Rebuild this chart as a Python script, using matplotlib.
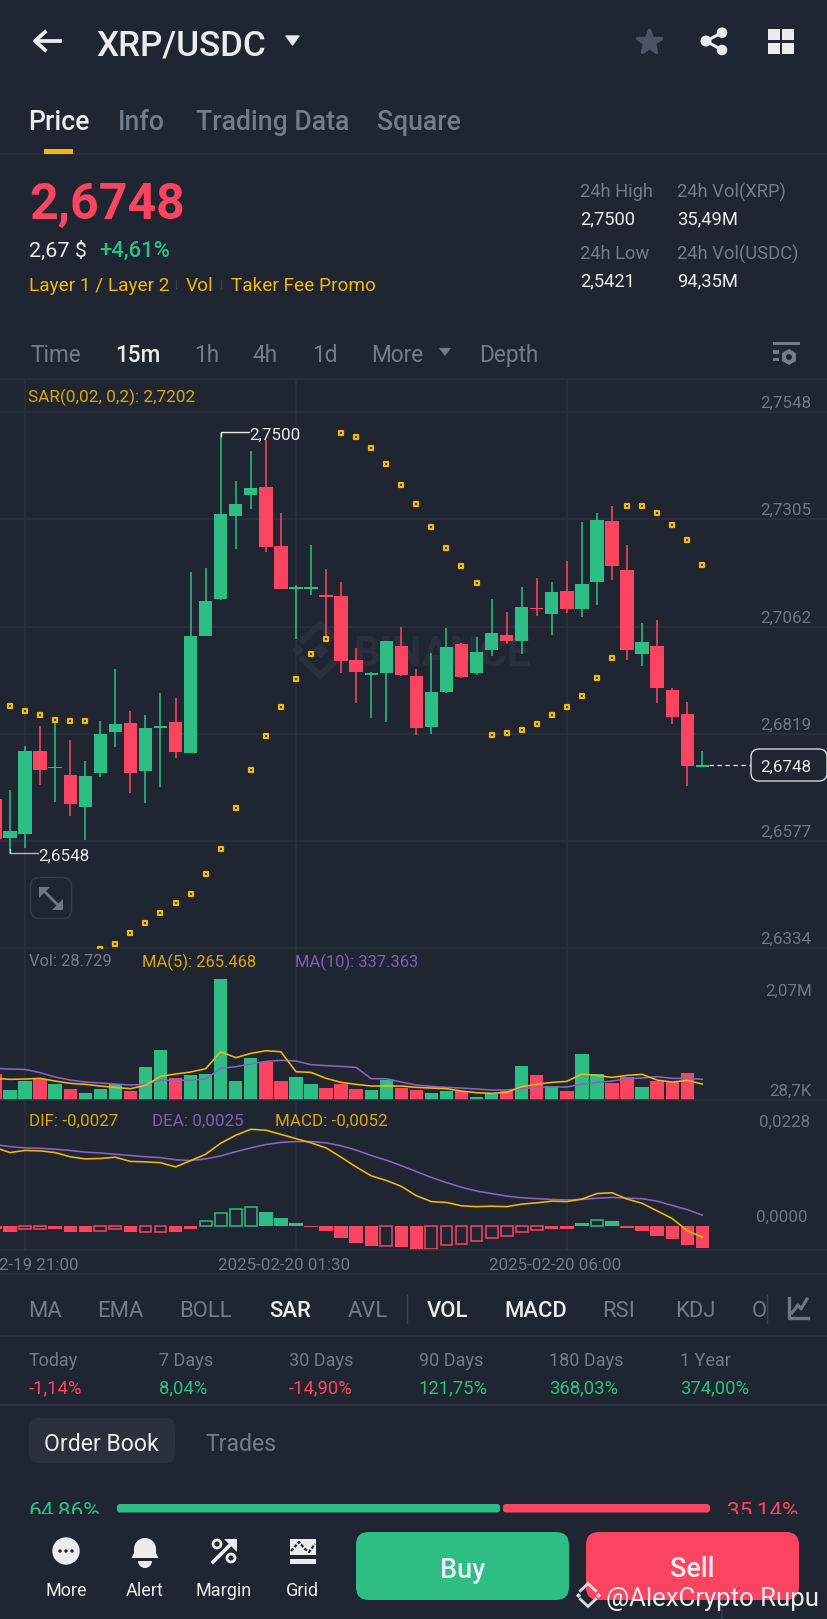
import numpy as np
import matplotlib
matplotlib.use("Agg")
import matplotlib.pyplot as plt
from matplotlib.markers import MarkerStyle
from matplotlib.patches import FancyBboxPatch, Rectangle, Circle, Polygon, RegularPolygon, Wedge

# ---- data -----------------------------------------------------------------
candle_index = list(range(-1, 47))
candle_open = [2.6671,2.6584,2.6592,2.6781,2.6741,2.6726,2.6654,2.6731,2.6823,2.6843,2.6736,2.6833,
               2.6845,2.6777,2.7041,2.7125,2.7313,2.7360,2.7378,2.7245,2.7146,2.7146,2.7133,2.7131,
               2.6987,2.6953,2.6956,2.7018,2.6951,2.6835,2.6913,2.7023,2.6958,2.7009,2.7042,2.7029,
               2.7105,2.7090,2.7142,2.7102,2.7162,2.7301,2.7190,2.7000,2.7019,2.6918,2.6864,2.6745]
candle_close = [2.6581,2.6599,2.6780,2.6738,2.6745,2.6661,2.6723,2.6820,2.6841,2.6730,2.6832,2.6838,
                2.6779,2.7041,2.7121,2.7317,2.7339,2.7376,2.7241,2.7148,2.7151,2.7151,2.7129,2.6985,
                2.6960,2.6958,2.7029,2.6952,2.6833,2.6914,2.7015,2.6947,2.7005,2.7047,2.7029,2.7107,
                2.7101,2.7140,2.7102,2.7159,2.7304,2.7199,2.7009,2.7026,2.6923,2.6858,2.6747,2.6748]
candle_high = [2.6681,2.6692,2.6792,2.6838,2.6847,2.6805,2.6758,2.6849,2.6966,2.6870,2.6862,2.6912,
               2.6900,2.7185,2.7194,2.7500,2.7391,2.7459,2.7484,2.7320,2.7156,2.7246,2.7192,2.7163,
               2.7014,2.6959,2.7030,2.7062,2.6966,2.7003,2.7059,2.7024,2.7038,2.7125,2.7094,2.7151,
               2.7173,2.7162,2.7210,2.7298,2.7318,2.7334,2.7247,2.7069,2.7077,2.6924,2.6891,2.6781]
candle_low = [2.6568,2.6548,2.6560,2.6703,2.6665,2.6633,2.6580,2.6721,2.6789,2.6685,2.6662,2.6700,
              2.6764,2.6776,2.7040,2.7123,2.7237,2.7328,2.7230,2.7146,2.7033,2.7133,2.7039,2.6956,
              2.6890,2.6856,2.6847,2.6951,2.6816,2.6820,2.6912,2.6945,2.6953,2.6996,2.7022,2.7001,
              2.7086,2.7044,2.7093,2.7083,2.7111,2.7168,2.6986,2.6973,2.6890,2.6842,2.6702,2.6745]
sar_values = [np.nan,2.6883,2.6872,2.6861,2.6850,2.6849,2.6849,2.6333,2.6343,2.6368,2.6392,2.6414,
              2.6437,2.6458,2.6502,2.6558,2.6652,2.6737,2.6814,2.6881,2.6944,2.7000,2.7034,2.7501,
              2.7491,2.7467,2.7430,2.7383,2.7340,2.7288,2.7240,2.7198,2.7160,2.6816,2.6822,2.6828,
              2.6841,2.6861,2.6880,2.6906,2.6945,2.6990,2.7334,2.7334,2.7320,2.7293,2.7258,2.7202]
volume_k = [463,198,350,373,299,215,142,204,294,170,587,863,390,446,457,2070,339,739,672,350,407,294,
            226,294,215,198,361,232,192,136,175,170,74,130,175,593,440,266,170,796,457,311,418,249,
            345,333,486,28.7]
vol_ma5 = [390,373,378,390,344,305,288,260,237,215,271,423,463,497,553,840,739,812,857,840,502,491,
           390,322,288,260,260,260,237,226,215,175,147,136,153,249,288,322,339,463,440,406,440,457,
           361,327,356,294]
vol_ma10 = [559,547,542,486,412,361,327,311,294,277,288,356,356,361,378,559,587,632,677,694,683,621,
            604,592,575,384,384,327,277,254,237,226,209,192,192,215,237,243,243,294,322,344,384,395,
            418,390,390,373]
macd_dif = [.0185,.0173,.0178,.0177,.0173,.0163,.0158,.0159,.0162,.0152,.0151,.0149,.0139,.0154,.0169,
            .0195,.0214,.0228,.0226,.0216,.0206,.0196,.0184,.0162,.0139,.0118,.0107,.0093,.0071,.0057,
            .0055,.0047,.0045,.0046,.0045,.0051,.0054,.0058,.0057,.0063,.0076,.0078,.0063,.0053,.0035,
            .0017,-.0012,-.0027]
macd_dea = [.0192,.0187,.0184,.0183,.0181,.0178,.0174,.0172,.0169,.0166,.0163,.0161,.0156,.0154,.0158,
            .0165,.0175,.0184,.0192,.0197,.0199,.0199,.0196,.0189,.0179,.0166,.0155,.0142,.0128,.0114,
            .0102,.0091,.0082,.0076,.0070,.0066,.0064,.0062,.0061,.0062,.0065,.0067,.0065,.0064,.0058,
            .0048,.0038,.0025]
macd_hist = [-.0009,-.0014,-.0008,-.0008,-.0008,-.0014,-.0016,-.0013,-.0009,-.0014,-.0014,-.0014,-.0016,
             -.0007,.0012,.0029,.0039,.0044,.0033,.0018,.0006,-.0004,-.0013,-.0028,-.0041,-.0047,-.0047,
             -.0050,-.0059,-.0055,-.0046,-.0043,-.0037,-.0029,-.0024,-.0016,-.0010,-.0007,-.0007,.0007,
             .0013,.0010,-.0005,-.0012,-.0024,-.0032,-.0046,-.0052]
hist_hollow = [1,2,6,7,9,10,13,14,15,16,25,28,29,30,31,32,33,34,35,39]
price_ticks = [2.7548,2.7305,2.7062,2.6819,2.6577,2.6334]
price_tick_labels = ["2,7548","2,7305","2,7062","2,6819","2,6577","2,6334"]
time_ticks = [1,19,37]
time_tick_labels = ["2-19 21:00","2025-02-20 01:30","2025-02-20 06:00"]
period_labels = ["Today","7 Days","30 Days","90 Days","180 Days","1 Year"]
period_values = ["-1,14%","8,04%","-14,90%","121,75%","368,03%","374,00%"]

# ---- style ----------------------------------------------------------------
W, H = 828, 1619
BG = "#1f2531"; GRID = "#2c323e"; GREEN = "#2ebd85"; RED = "#fb4560"; YEL = "#f0b90b"
PUR = "#8a63c4"; GRAY = "#737c8b"; AXG = "#6f7684"; WHITE = "#eaecef"; DYEL = "#d9a710"; DPUR = "#7d62b5"
plt.rcParams["font.family"] = ["Roboto", "DejaVu Sans"]
fig = plt.figure(figsize=(W/100, H/100), dpi=100, facecolor=BG)
PT = 0.72

def pixel_axes():
    a = fig.add_axes([0, 0, 1, 1], facecolor="none")
    a.set_xlim(0, W); a.set_ylim(H, 0); a.axis("off")
    return a

def logo(a, cx, cy, k, col, z):
    s = 9*k
    lw = 2.4*k
    a.plot([cx-s, cx, cx+s], [cy-s*0.55, cy-s*1.5, cy-s*0.55], color=col, lw=lw, zorder=z, solid_joinstyle="miter")
    a.plot([cx-s, cx, cx+s], [cy+s*0.55, cy+s*1.5, cy+s*0.55], color=col, lw=lw, zorder=z, solid_joinstyle="miter")
    for dx in (-s*1.3, s*1.3):
        a.plot([cx+dx], [cy], marker="D", ms=3.2*k, mfc=col, mec=col, mew=0, zorder=z)

# chart watermark sits under the candles
under = pixel_axes()
wm = "#292f3b"
logo(under, 320, 650, 1.9, wm, 1)
under.plot([320], [650], marker="D", ms=7.5, mfc=wm, mec=wm, zorder=1)
under.text(353, 650, "BINANCE", fontsize=42*PT, color=wm, weight="bold", va="center_baseline", zorder=1)

def panel(top, bottom):
    ax = fig.add_axes([0, 1-bottom/H, 1, (bottom-top)/H], facecolor="none")
    ax.set_xlim(-10/15.05, (W-10)/15.05)
    for s in ax.spines.values():
        s.set_visible(False)
    ax.set_xticks([]); ax.set_yticks([])
    for t in time_ticks:
        ax.axvline(t, color=GRID, lw=1.1, zorder=0)
    return ax

x = np.array(candle_index, float)
o = np.array(candle_open); c = np.array(candle_close)
up = c >= o
colors = [GREEN if u else RED for u in up]
BW = 0.885

# ---- price panel ----------------------------------------------------------
ax1 = panel(380, 948.3)
ax1.set_ylim(2.6334, 2.7620)
for v in price_ticks:
    ax1.axhline(v, color=GRID, lw=1.1, zorder=0, clip_on=False)
ax1.vlines(x, candle_low, candle_high, colors=colors, lw=1.15, zorder=3)
ax1.bar(x, np.maximum(np.abs(c-o), 0.0003), bottom=np.minimum(o, c), width=BW, color=colors, zorder=4, lw=0)
ax1.scatter(x, sar_values, marker="s", s=8, facecolor="#1a1a1a", edgecolor=YEL, linewidths=1.6, zorder=5)

# ---- volume panel ---------------------------------------------------------
ax2 = panel(948.3, 1099.7)
ax2.set_ylim(28.7, 2589)
ax2.bar(x, volume_k, width=BW, color=colors, zorder=3, lw=0)
ax2.plot(x, vol_ma10, color=PUR, lw=1.15, zorder=4)
ax2.plot(x, vol_ma5, color=YEL, lw=1.15, zorder=5)

# ---- macd panel -----------------------------------------------------------
ax3 = panel(1099.7, 1250)
ax3.set_ylim(-0.00575, 0.0298)
h = np.array(macd_hist)
hcol = [GREEN if v >= 0 else RED for v in h]
for i, v, col in zip(candle_index, h, hcol):
    if i in hist_hollow:
        ax3.bar(i, v, width=BW-0.1, facecolor="none", edgecolor=col, lw=1.1, zorder=3)
    else:
        ax3.bar(i, v, width=BW, color=col, lw=0, zorder=3)
ax3.plot(x, macd_dea, color=PUR, lw=1.15, zorder=4)
ax3.plot(x, macd_dif, color=YEL, lw=1.15, zorder=5)
for t, lab in zip(time_ticks, time_tick_labels):
    ax3.annotate(lab, (t, 0), xycoords=("data", "axes fraction"), xytext=(54*PT, -15*PT),
                 textcoords="offset points", ha="right", va="center", fontsize=16.9*PT, color=GRAY,
                 annotation_clip=False)

# ---- UI overlay in pixel space --------------------------------------------
ui = pixel_axes()

def T(px, py, s, size, color=GRAY, ha="left", weight="normal", z=6, **kw):
    return ui.text(px, py, s, fontsize=size*PT, color=color, ha=ha, va="center_baseline", weight=weight, zorder=z, **kw)

def hline(y, x0=0, x1=W, color=GRID, lw=1.1, z=1):
    ui.plot([x0, x1], [y, y], color=color, lw=lw, zorder=z, solid_capstyle="butt")

for y in (153.7, 379, 1099.7, 1250, 1274, 1336, 1405):
    hline(y, lw=1.4 if y in (1336, 1405) else 1.1)

# header
ui.plot([36, 60], [41, 41], color=WHITE, lw=2.7, zorder=6)
ui.plot([45, 35, 45], [32, 41, 50], color=WHITE, lw=2.7, zorder=6)
T(96, 42, "XRP/USDC", 35, WHITE, weight="medium")
ui.add_patch(Polygon([(286, 36), (299, 36), (292.5, 45)], fc=WHITE, ec=WHITE, lw=1, joinstyle="round", zorder=6))
ui.plot([649], [42], marker=MarkerStyle("*", joinstyle="round"), ms=18, mfc="#4c5362", mec="#4c5362", mew=2.5, zorder=6)
ui.plot([722, 706, 722], [32.7, 41, 50], color=WHITE, lw=2.2, zorder=6)
for cx, cy, r in [(722, 32.7, 5.3), (706, 41, 5.5), (722, 50, 5.3)]:
    ui.add_patch(Circle((cx, cy), r, fc=WHITE, ec="none", zorder=6))
for sx, sy in [(768, 29), (782, 29), (768, 43), (782, 43)]:
    ui.add_patch(Rectangle((sx, sy), 12, 11.5, fc=WHITE, ec="none", zorder=6))

# tabs
T(28.5, 120, "Price", 26.6, WHITE, weight="medium")
T(118, 120, "Info", 26.6, GRAY, weight="medium")
T(196, 120, "Trading Data", 26.6, GRAY, weight="medium")
T(377.5, 120, "Square", 26.6, GRAY, weight="medium")
ui.add_patch(Rectangle((44, 149), 29, 5, fc=YEL, ec="none", zorder=6))

# price block
T(29, 201, "2,6748", 50, RED, weight="bold")
T(29, 249, "2,67 $", 21.5, WHITE)
T(99, 249, "+4,61%", 22, GREEN, weight="medium")
T(29, 284, "Layer 1 / Layer 2", 19, YEL)
T(186, 284, "Vol", 19, YEL)
T(231, 284, "Taker Fee Promo", 19, YEL)
T(580, 190, "24h High", 18.4, GRAY)
T(580, 217, "2,7500", 18.4, WHITE)
T(580, 252, "24h Low", 18.4, GRAY)
T(580, 279, "2,5421", 18.4, WHITE)
T(677, 190, "24h Vol(XRP)", 18.4, GRAY)
T(677, 217, "35,49M", 18.4, WHITE)
T(677, 252, "24h Vol(USDC)", 18.4, GRAY)
T(677, 279, "94,35M", 18.4, WHITE)
for sx in (176, 221):
    ui.plot([sx, sx], [280, 288], color="#3a404c", lw=0.9, zorder=6)

# interval row
for px, s, col, wt in [(30.5, "Time", GRAY, "normal"), (115, "15m", WHITE, "medium"), (194, "1h", GRAY, "normal"),
                       (252, "4h", GRAY, "normal"), (312, "1d", GRAY, "normal"), (371, "More", GRAY, "normal"),
                       (479, "Depth", GRAY, "normal")]:
    T(px, 353, s, 22.6, col, weight=wt)
ui.add_patch(Polygon([(439, 348), (451, 348), (445, 356)], fc=GRAY, ec="none", zorder=6))
ui.add_patch(Rectangle((773, 342), 27, 3.2, fc=GRAY, ec="none", zorder=6))
ui.add_patch(Rectangle((773, 350.5), 6, 3.2, fc=GRAY, ec="none", zorder=6))
ui.add_patch(Rectangle((773, 358), 6, 3.2, fc=GRAY, ec="none", zorder=6))
ui.add_patch(RegularPolygon((789, 357), 6, radius=8, fc=GRAY, ec="none", zorder=6))
ui.add_patch(Circle((789, 357), 3, fc=BG, ec="none", zorder=7))

# chart labels
T(28, 395, "SAR(0,02, 0,2): 2,7202", 17.2, DYEL)
for v, lab in zip(price_ticks, price_tick_labels):
    gy = 411.7 + (2.7548 - v)/0.02428*107.3
    T(811, gy-10, lab, 17, AXG, ha="right")
ui.plot([220.7, 220.7, 249], [436, 432.3, 432.3], color=WHITE, lw=1, zorder=6)
T(249, 433.5, "2,7500", 17, WHITE)
ui.plot([10, 10, 38], [849, 853.3, 853.3], color=WHITE, lw=1, zorder=6, alpha=.75)
T(38.5, 855, "2,6548", 17, WHITE)
ui.plot([709, 751], [765.5, 765.5], color=WHITE, lw=0.9, ls=(0, (3.4, 3)), zorder=6)
ui.add_patch(FancyBboxPatch((757, 755), 64, 20, boxstyle="round,pad=6,rounding_size=8", fc=BG, ec=WHITE, lw=0.9, zorder=6))
T(760, 766, "2,6748", 17, WHITE, z=7)
ui.add_patch(FancyBboxPatch((36, 883), 30, 30, boxstyle="round,pad=5.5,rounding_size=9", fc="none", ec="#353b47", lw=1.1, zorder=6))
ui.plot([44, 58], [891, 905], color=AXG, lw=2, zorder=6)
ui.add_patch(Polygon([(39, 887), (50, 887), (39, 898)], fc=AXG, ec="none", zorder=6))
ui.add_patch(Polygon([(63, 910), (52, 910), (63, 899)], fc=AXG, ec="none", zorder=6))

T(29, 960, "Vol: 28.729", 16.5, GRAY)
T(142, 960, "MA(5): 265.468", 16.5, DYEL)
T(295, 960, "MA(10): 337.363", 16.5, DPUR)
T(812, 990, "2,07M", 17, AXG, ha="right")
T(812, 1090, "28,7K", 17, AXG, ha="right")
T(29, 1120, "DIF: -0,0027", 17, DYEL)
T(152, 1120, "DEA: 0,0025", 17, DPUR)
T(275, 1120, "MACD: -0,0052", 17, DYEL)
T(810, 1121, "0,0228", 17, AXG, ha="right")
T(808, 1216, "0,0000", 17, AXG, ha="right")

# indicator row
for px, s, col, wt in [(28.5, "MA", GRAY, "normal"), (97, "EMA", GRAY, "normal"), (179, "BOLL", GRAY, "normal"),
                       (269, "SAR", WHITE, "medium"), (348, "AVL", GRAY, "normal"), (427, "VOL", WHITE, "medium"),
                       (504, "MACD", WHITE, "medium"), (602, "RSI", GRAY, "normal"), (675, "KDJ", GRAY, "normal"),
                       (752, "O", GRAY, "normal")]:
    T(px, 1309, s, 22, col, weight=wt)
for sx in (407, 767):
    ui.plot([sx, sx], [1295, 1323], color="#3a404c", lw=1, zorder=6)
ui.plot([789, 789, 808], [1298, 1318, 1318], color=AXG, lw=2.4, zorder=6)
ui.plot([792, 798, 801, 807], [1313, 1305, 1309, 1299], color=AXG, lw=2.2, zorder=6)

# performance row
for px, lab, val in zip((28.5, 159, 289, 419, 549, 680), period_labels, period_values):
    T(px, 1359, lab, 18, GRAY)
    T(px, 1386, val, 18.5, RED if val.startswith("-") else GREEN)

# order book
ui.add_patch(FancyBboxPatch((37, 1426), 130, 29, boxstyle="round,pad=8,rounding_size=9", fc="#2a303c", ec="none", zorder=3))
T(44, 1442, "Order Book", 23, WHITE, z=4)
T(206, 1442, "Trades", 23, GRAY)
T(29, 1509, "64,86%", 22.5, GREEN, z=1)
T(727, 1509, "35,14%", 22.5, RED, z=1)
ui.add_patch(Rectangle((0, 1513.5), W, H-1513.5, fc=BG, ec="none", zorder=2))
ui.add_patch(FancyBboxPatch((119, 1506), 379, 4.5, boxstyle="round,pad=2,rounding_size=3", fc=GREEN, ec="none", zorder=3))
ui.add_patch(FancyBboxPatch((505, 1506), 203, 4.5, boxstyle="round,pad=2,rounding_size=3", fc=RED, ec="none", zorder=3))

# bottom nav
ui.add_patch(Circle((66, 1551), 13.7, fc=WHITE, ec="none", zorder=4))
for dx in (-6, 0, 6):
    ui.add_patch(Circle((66+dx, 1551), 1.7, fc=BG, ec="none", zorder=5))
ui.add_patch(Wedge((145, 1549), 11, 180, 360, fc=WHITE, ec="none", zorder=4))
ui.add_patch(Polygon([(134, 1549), (156, 1549), (156, 1553), (158.5, 1558), (131.5, 1558), (134, 1553)], fc=WHITE, ec="none", zorder=4))
ui.add_patch(Wedge((145, 1561), 7, 0, 180, fc=WHITE, ec="none", zorder=4))
ui.plot([213, 234], [1562, 1541], color=WHITE, lw=2.6, zorder=4)
ui.add_patch(Circle((217, 1544), 4, fc="none", ec=WHITE, lw=2, zorder=4))
ui.add_patch(Circle((231, 1558), 4, fc="none", ec=WHITE, lw=2, zorder=4))
ui.add_patch(Polygon([(224, 1539), (237, 1539), (237, 1552)], fc=WHITE, ec="none", zorder=4))
ui.add_patch(Rectangle((290, 1539), 26, 16, fc=WHITE, ec="none", zorder=4))
ui.plot([291, 299, 305, 309, 315], [1551, 1542, 1549, 1552, 1544], color=BG, lw=1.6, ls=(0, (1.5, 0.8)), zorder=5)
ui.add_patch(Rectangle((290, 1559), 26, 5, fc=WHITE, ec="none", zorder=4))
for cx, s in [(66, "More"), (145, "Alert"), (224, "Margin"), (302, "Grid")]:
    T(cx, 1589, s, 18, WHITE, ha="center")
ui.add_patch(FancyBboxPatch((368, 1544), 189, 44, boxstyle="round,pad=12,rounding_size=13", fc=GREEN, ec="none", zorder=4))
ui.add_patch(FancyBboxPatch((598, 1544), 189, 44, boxstyle="round,pad=12,rounding_size=13", fc=RED, ec="none", zorder=4))
T(463, 1567, "Buy", 27, WHITE, ha="center", weight="medium")
T(692, 1566, "Sell", 27, WHITE, ha="center", weight="medium")

# overlaid credit
logo(ui, 588, 1595, 0.85, "#d8d8dc", 7)
T(606.5, 1596, "@AlexCrypto Rupu", 25.7, WHITE, z=8)
ui.plot([740, 722, 722], [1587, 1600, 1619], color="#3b4d90", lw=0.8, ls=(0, (1.2, 0.8)), zorder=7)

fig.savefig("out.png", dpi=100, facecolor=BG)
